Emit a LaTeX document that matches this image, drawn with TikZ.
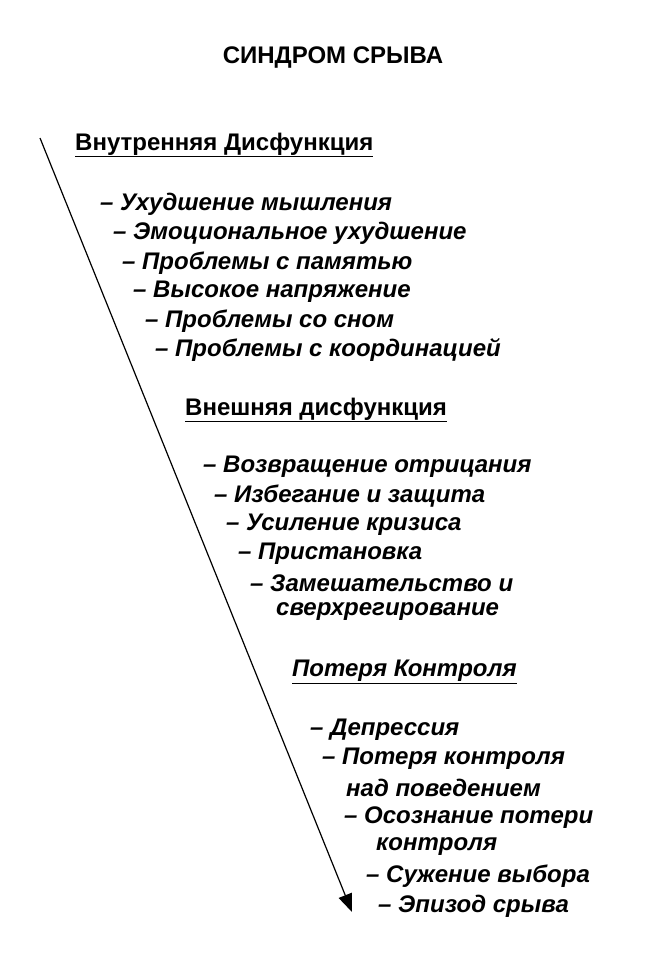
\documentclass[tikz,border=0pt]{standalone}
\usepackage{fontspec}
\setmainfont{Liberation Sans}
\usetikzlibrary{arrows.meta}
\newcommand{\ul}[1]{\underline{#1}}
\begin{document}
\begin{tikzpicture}[x=1pt,y=-1pt,
  itm/.style={anchor=west,inner sep=0pt,font=\fontsize{24}{28}\selectfont\bfseries\itshape},
  hd/.style={anchor=west,inner sep=0pt,font=\fontsize{24}{28}\selectfont\bfseries},
  hdi/.style={anchor=west,inner sep=0pt,font=\fontsize{24}{28}\selectfont\bfseries\itshape}]
\useasboundingbox[fill=white] (0,0) rectangle (653,963);
\node[font=\fontsize{24}{28}\selectfont\bfseries,inner sep=0pt] (t) at (333,58) {СИНДРОМ СРЫВА};
\node[hd] (h1) at (75,145) {\ul{Внутренняя Дисфункция}};
\node[itm] (a1) at (100,204) {– Ухудшение мышления};
\node[itm] (a2) at (113,233) {– Эмоциональное ухудшение};
\node[itm] (a3) at (122,263) {– Проблемы с памятью};
\node[itm] (a4) at (133,292) {– Высокое напряжение};
\node[itm] (a5) at (145,321) {– Проблемы со сном};
\node[itm] (a6) at (155,350) {– Проблемы с координацией};
\node[hd] (h2) at (185,410) {\ul{Внешняя дисфункция}};
\node[itm] (b1) at (203,467) {– Возвращение отрицания};
\node[itm] (b2) at (214,496) {– Избегание и защита};
\node[itm] (b3) at (226,525) {– Усиление кризиса};
\node[itm] (b4) at (238,554) {– Пристановка};
\node[itm] (b5) at (250,583) {– Замешательство и};
\node[itm] (b6) at (276,612) {сверхрегирование};
\node[hdi] (h3) at (292,672) {\ul{Потеря Контроля}};
\node[itm] (c1) at (310,730) {– Депрессия};
\node[itm] (c2) at (322,759) {– Потеря контроля};
\node[itm] (c3) at (346,788) {над поведением};
\node[itm] (c4) at (344,818) {– Осознание потери};
\node[itm] (c5) at (376,847) {контроля};
\node[itm] (c6) at (366,876) {– Сужение выбора};
\node[itm] (c7) at (378,906) {– Эпизод срыва};
\coordinate (s) at (40,138);
\coordinate (e) at (352,912);
\draw[line width=1.2pt,-{Triangle[length=18pt,width=14pt]}] (s) -- (e);
\end{tikzpicture}
\end{document}
